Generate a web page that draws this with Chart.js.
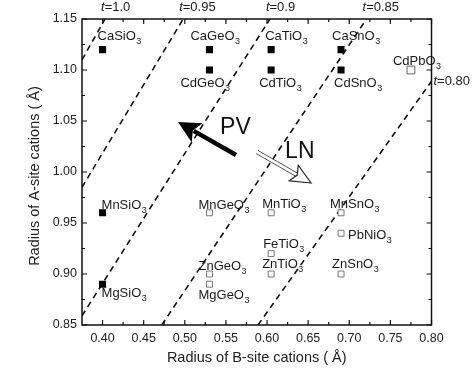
<!DOCTYPE html>
<html>
<head>
<meta charset="utf-8">
<script src="https://cdn.jsdelivr.net/npm/chart.js@4.4.0/dist/chart.umd.min.js"></script>
<style>
body { margin: 0; background: #fff; }
#boks { width: 474px; height: 368px; }
</style>
</head>
<body>
<div id="boks"><canvas id="diagram"></canvas></div>
<script>
// Data lese av figuren
var fyltNamn = ['CaSiO3', 'CaGeO3', 'CdGeO3', 'CaTiO3', 'CdTiO3', 'CaSnO3', 'CdSnO3', 'MnSiO3', 'MgSiO3'];
var fyltB = [0.40, 0.53, 0.53, 0.605, 0.605, 0.69, 0.69, 0.40, 0.40];
var fyltA = [1.12, 1.12, 1.10, 1.12, 1.10, 1.12, 1.10, 0.96, 0.89];

var openNamn = ['MnGeO3', 'ZnGeO3', 'MgGeO3', 'MnTiO3', 'FeTiO3', 'ZnTiO3', 'MnSnO3', 'PbNiO3', 'ZnSnO3'];
var openB = [0.53, 0.53, 0.53, 0.605, 0.605, 0.605, 0.69, 0.69, 0.69];
var openA = [0.96, 0.90, 0.89, 0.96, 0.92, 0.90, 0.96, 0.94, 0.90];

var storNamn = ['CdPbO3'];
var storB = [0.775];
var storA = [1.10];

// toleransefaktor-linjer (endepunkt)
var tNamn = ['1.0', '0.95', '0.9', '0.85', '0.80'];
var tFraB = [0.375, 0.375, 0.375, 0.472, 0.589];
var tFraA = [1.110, 0.985, 0.859, 0.85, 0.85];
var tTilB = [0.403, 0.498, 0.6035, 0.721, 0.80];
var tTilA = [1.15, 1.15, 1.15, 1.15, 1.089];

var xTicks = [0.40, 0.45, 0.50, 0.55, 0.60, 0.65, 0.70, 0.75, 0.80];
var yTicks = [0.85, 0.90, 0.95, 1.00, 1.05, 1.10, 1.15];

// Plassering av tekstane (pikslar i høve til punktet)
var fyltTekstPos = [[-5, -10], [-19, -10], [-29, 17], [-6, -10], [-12, 17], [-9, -10], [-7, 17], [-1, -4], [-1, 13]];
var openTekstPos = [[-11, -4], [-11, -4], [-11, 15], [-9, -5], [-8, -6], [-9, -6], [-11, -5], [7, 6], [-9, -6]];
var storTekstPos = [[-18, -5]];

// Pilene (dataeiningar)
var pilar = [
    { tekst: 'PV', fra: [0.5623, 1.0167], til: [0.4918, 1.049], tekstPos: [0.5429, 1.0373], fylt: true },
    { tekst: 'LN', fra: [0.5879, 1.0196], til: [0.6536, 0.9892], tekstPos: [0.622, 1.0137], fylt: false }
];

var skrift = "'Liberation Sans', Arial, Helvetica, sans-serif";
var diagram1 = null;

function gel(id){
    return document.getElementById(id);
}
function tilPunkt(xs, ys) {
    var ut = [];
    for (var i = 0; i < xs.length; i++) ut.push({ x: xs[i], y: ys[i] });
    return ut;
}
function midtpunkt(liste) {
    var ut = [];
    for (var i = 0; i < liste.length - 1; i++) ut.push((liste[i] + liste[i+1]) / 2);
    return ut;
}

// skriv formel med senka siffer
function skrivFormel(ctx, tekst, x, y) {
    var hovud = tekst.replace(/\d+$/, '');
    var sub = tekst.slice(hovud.length);
    ctx.font = '13px ' + skrift;
    ctx.fillText(hovud, x, y);
    var w = ctx.measureText(hovud).width;
    ctx.font = '9px ' + skrift;
    ctx.fillText(sub, x + w + 0.5, y + 4);
}

function teiknPil(ctx, x1, y1, x2, y2, fylt) {
    var dx = x2 - x1, dy = y2 - y1;
    var len = Math.sqrt(dx*dx + dy*dy);
    var ux = dx / len, uy = dy / len;
    var px = -uy, py = ux;
    var hl = fylt ? 22 : 20, hb = fylt ? 11 : 9;
    var bx = x2 - ux*hl, by = y2 - uy*hl;
    ctx.save();
    if (fylt) {
        ctx.strokeStyle = '#000';
        ctx.lineWidth = 4.5;
        ctx.beginPath();
        ctx.moveTo(x1, y1);
        ctx.lineTo(bx + ux*4, by + uy*4);
        ctx.stroke();
        ctx.fillStyle = '#000';
        ctx.beginPath();
        ctx.moveTo(x2, y2);
        ctx.lineTo(bx + px*hb, by + py*hb);
        ctx.lineTo(bx + ux*5, by + uy*5);
        ctx.lineTo(bx - px*hb, by - py*hb);
        ctx.closePath();
        ctx.fill();
    } else {
        ctx.strokeStyle = '#555';
        ctx.lineWidth = 1;
        var g = 1.8;
        ctx.beginPath();
        ctx.moveTo(x1 + px*g, y1 + py*g);
        ctx.lineTo(bx + ux*3 + px*g, by + uy*3 + py*g);
        ctx.moveTo(x1 - px*g, y1 - py*g);
        ctx.lineTo(bx + ux*3 - px*g, by + uy*3 - py*g);
        ctx.stroke();
        ctx.fillStyle = '#fff';
        ctx.strokeStyle = '#222';
        ctx.lineWidth = 1.2;
        ctx.beginPath();
        ctx.moveTo(x2, y2);
        ctx.lineTo(bx + px*hb, by + py*hb);
        ctx.lineTo(bx + ux*4, by + uy*4);
        ctx.lineTo(bx - px*hb, by - py*hb);
        ctx.closePath();
        ctx.fill();
        ctx.stroke();
    }
    ctx.restore();
}

// Plugin som teiknar ramme, ticks, tekst og piler
var pyntPlugin = {
    id: 'pynt',
    afterDraw: function(chart) {
        var ctx = chart.ctx;
        var xs = chart.scales.x, ys = chart.scales.y;
        var ca = chart.chartArea;
        ctx.save();
        // ramme
        ctx.strokeStyle = '#111';
        ctx.lineWidth = 1.5;
        ctx.strokeRect(ca.left, ca.top, ca.right - ca.left, ca.bottom - ca.top);
        // ticks inn
        ctx.lineWidth = 1.2;
        ctx.beginPath();
        var minorX = midtpunkt(xTicks), minorY = midtpunkt(yTicks);
        xTicks.forEach(function(v){
            var p = xs.getPixelForValue(v);
            ctx.moveTo(p, ca.bottom); ctx.lineTo(p, ca.bottom - 5);
            ctx.moveTo(p, ca.top); ctx.lineTo(p, ca.top + 5);
        });
        minorX.forEach(function(v){
            var p = xs.getPixelForValue(v);
            ctx.moveTo(p, ca.bottom); ctx.lineTo(p, ca.bottom - 3);
            ctx.moveTo(p, ca.top); ctx.lineTo(p, ca.top + 3);
        });
        yTicks.forEach(function(v){
            var p = ys.getPixelForValue(v);
            ctx.moveTo(ca.left, p); ctx.lineTo(ca.left + 5, p);
            ctx.moveTo(ca.right, p); ctx.lineTo(ca.right - 5, p);
        });
        minorY.forEach(function(v){
            var p = ys.getPixelForValue(v);
            ctx.moveTo(ca.left, p); ctx.lineTo(ca.left + 3, p);
            ctx.moveTo(ca.right, p); ctx.lineTo(ca.right - 3, p);
        });
        ctx.stroke();

        // namn på punkta
        ctx.fillStyle = '#1a1a1a';
        ctx.textBaseline = 'alphabetic';
        ctx.textAlign = 'left';
        var grupper = [[fyltNamn, fyltB, fyltA, fyltTekstPos], [openNamn, openB, openA, openTekstPos], [storNamn, storB, storA, storTekstPos]];
        grupper.forEach(function(g){
            for (var i = 0; i < g[0].length; i++) {
                var px = xs.getPixelForValue(g[1][i]), py = ys.getPixelForValue(g[2][i]);
                skrivFormel(ctx, g[0][i], px + g[3][i][0], py + g[3][i][1]);
            }
        });

        // t-etikettar
        for (var i = 0; i < tNamn.length; i++) {
            var ex = xs.getPixelForValue(tTilB[i]), ey = ys.getPixelForValue(tTilA[i]);
            var lx, ly;
            if (tTilA[i] >= ys.max) { lx = ex - 4; ly = ca.top - 8; }
            else { lx = ex + 2; ly = ey + 4; }
            ctx.font = 'italic 13px ' + skrift;
            ctx.fillText('t', lx, ly);
            var w = ctx.measureText('t').width;
            ctx.font = '13px ' + skrift;
            ctx.fillText('=' + tNamn[i], lx + w, ly);
        }

        // piler
        pilar.forEach(function(p){
            teiknPil(ctx, xs.getPixelForValue(p.fra[0]), ys.getPixelForValue(p.fra[1]),
                xs.getPixelForValue(p.til[0]), ys.getPixelForValue(p.til[1]), p.fylt);
            ctx.fillStyle = '#111';
            ctx.font = '23px ' + skrift;
            ctx.fillText(p.tekst, xs.getPixelForValue(p.tekstPos[0]), ys.getPixelForValue(p.tekstPos[1]));
        });

        // y-tittel (teikna sjølv for å styre plassen)
        ctx.save();
        ctx.translate(35, (ca.top + ca.bottom) / 2 + 4);
        ctx.rotate(-Math.PI / 2);
        ctx.textAlign = 'center';
        ctx.textBaseline = 'middle';
        ctx.fillStyle = '#222';
        ctx.font = '14.5px ' + skrift;
        ctx.fillText('Radius of A-site cations ( Å)', 0, 0);
        ctx.restore();

        ctx.restore();
    }
};

function lagDatasett() {
    var sett = [];
    for (var i = 0; i < tNamn.length; i++) {
        sett.push({
            label: 't=' + tNamn[i],
            data: [{ x: tFraB[i], y: tFraA[i] }, { x: tTilB[i], y: tTilA[i] }],
            showLine: true,
            borderColor: '#111',
            borderWidth: 1.6,
            borderDash: [6, 4.5],
            pointRadius: 0,
            order: 5
        });
    }
    sett.push({
        label: 'fylt',
        data: tilPunkt(fyltB, fyltA),
        pointStyle: 'rect',
        pointRadius: 5,
        backgroundColor: '#000',
        borderColor: '#000',
        borderWidth: 0,
        order: 1
    });
    sett.push({
        label: 'open',
        data: tilPunkt(openB, openA),
        pointStyle: 'rect',
        pointRadius: 4.2,
        backgroundColor: '#fff',
        borderColor: '#777',
        borderWidth: 1,
        order: 1
    });
    sett.push({
        label: 'stor',
        data: tilPunkt(storB, storA),
        pointStyle: 'rect',
        pointRadius: 5.5,
        backgroundColor: '#fff',
        borderColor: '#666',
        borderWidth: 1,
        order: 1
    });
    return sett;
}

function teiknDiagram() {
    var ctx = gel('diagram').getContext('2d');
    diagram1 = new Chart(ctx, {
        type: 'scatter',
        data: { datasets: lagDatasett() },
        plugins: [pyntPlugin],
        options: {
            responsive: true,
            maintainAspectRatio: false,
            animation: false,
            layout: { padding: { top: 19, right: 42.5, left: 0, bottom: 0 } },
            plugins: {
                legend: { display: false },
                tooltip: { enabled: false }
            },
            scales: {
                x: {
                    type: 'linear',
                    min: 0.375,
                    max: 0.80,
                    afterBuildTicks: function(s) { s.ticks = xTicks.map(function(v){ return { value: v }; }); },
                    afterFit: function(s) { s.height = 43; },
                    grid: { display: false, drawTicks: false },
                    border: { display: false },
                    ticks: {
                        padding: 6,
                        color: '#222',
                        autoSkip: false,
                        maxRotation: 0,
                        font: { size: 12.5, family: skrift },
                        callback: function(v) { return Number(v).toFixed(2); }
                    },
                    title: {
                        display: true,
                        text: 'Radius of B-site cations ( Å)',
                        color: '#222',
                        font: { size: 14.5, family: skrift },
                        padding: { top: 0, bottom: 1 }
                    }
                },
                y: {
                    type: 'linear',
                    min: 0.85,
                    max: 1.15,
                    afterBuildTicks: function(s) { s.ticks = yTicks.map(function(v){ return { value: v }; }); },
                    afterFit: function(s) { s.width = 82; },
                    grid: { display: false, drawTicks: false },
                    border: { display: false },
                    ticks: {
                        padding: 5,
                        color: '#222',
                        autoSkip: false,
                        font: { size: 12.5, family: skrift },
                        callback: function(v) { return Number(v).toFixed(2); }
                    },
                    title: { display: false }
                }
            }
        }
    });
}

window.onload = teiknDiagram;
</script>
</body>
</html>
